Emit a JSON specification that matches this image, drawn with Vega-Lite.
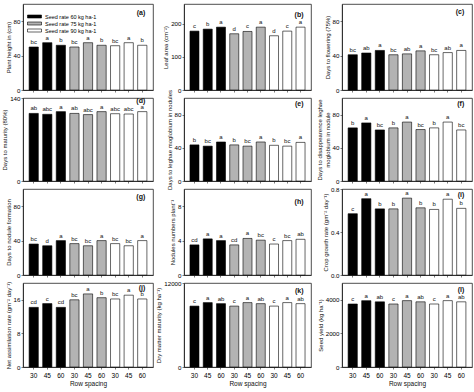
{
"$schema":"https://vega.github.io/schema/vega-lite/v6.json",
"padding":{"left":1,"top":3,"right":1,"bottom":1},
"config":{"font":"Liberation Sans","view":{"stroke":"#222","strokeWidth":0.8},
"axis":{"labelFontSize":6.2,"titleFontSize":6,"titleFontWeight":"normal","tickSize":2,"grid":false,"domainColor":"#222","tickColor":"#222","labelColor":"#000","titleColor":"#111","labelPadding":1,"titlePadding":2,"domainWidth":0.8,"tickWidth":0.6,"labelOverlap":false,"labelFlush":false,"labelBound":false},
"text":{"fontSize":6,"color":"#111"}},
"datasets":{"d":[
{"p":"a","t":"60-30","r":"60","v":50,"l":"bc"},{"p":"a","t":"60-45","r":"60","v":55,"l":"a"},{"p":"a","t":"60-60","r":"60","v":52,"l":"b"},
{"p":"a","t":"75-30","r":"75","v":50,"l":"bc"},{"p":"a","t":"75-45","r":"75","v":55,"l":"a"},{"p":"a","t":"75-60","r":"75","v":52,"l":"b"},
{"p":"a","t":"90-30","r":"90","v":51.5,"l":"bc"},{"p":"a","t":"90-45","r":"90","v":55,"l":"a"},{"p":"a","t":"90-60","r":"90","v":52,"l":"b"},
{"p":"b","t":"60-30","r":"60","v":178,"l":"c"},{"p":"b","t":"60-45","r":"60","v":184,"l":"b"},{"p":"b","t":"60-60","r":"60","v":190,"l":"a"},
{"p":"b","t":"75-30","r":"75","v":170,"l":"d"},{"p":"b","t":"75-45","r":"75","v":177,"l":"c"},{"p":"b","t":"75-60","r":"75","v":190,"l":"a"},
{"p":"b","t":"90-30","r":"90","v":164,"l":"d"},{"p":"b","t":"90-45","r":"90","v":178,"l":"c"},{"p":"b","t":"90-60","r":"90","v":190,"l":"a"},
{"p":"c","t":"60-30","r":"60","v":41,"l":"bc"},{"p":"c","t":"60-45","r":"60","v":43,"l":"ab"},{"p":"c","t":"60-60","r":"60","v":46,"l":"a"},
{"p":"c","t":"75-30","r":"75","v":41,"l":"bc"},{"p":"c","t":"75-45","r":"75","v":42,"l":"ab"},{"p":"c","t":"75-60","r":"75","v":45.5,"l":"a"},
{"p":"c","t":"90-30","r":"90","v":41,"l":"bc"},{"p":"c","t":"90-45","r":"90","v":43.5,"l":"ab"},{"p":"c","t":"90-60","r":"90","v":46,"l":"a"},
{"p":"d","t":"60-30","r":"60","v":114,"l":"ab"},{"p":"d","t":"60-45","r":"60","v":112.5,"l":"abc"},{"p":"d","t":"60-60","r":"60","v":117,"l":"a"},
{"p":"d","t":"75-30","r":"75","v":114,"l":"ab"},{"p":"d","t":"75-45","r":"75","v":112,"l":"abc"},{"p":"d","t":"75-60","r":"75","v":117,"l":"a"},
{"p":"d","t":"90-30","r":"90","v":113.5,"l":"abc"},{"p":"d","t":"90-45","r":"90","v":113,"l":"abc"},{"p":"d","t":"90-60","r":"90","v":117,"l":"a"},
{"p":"e","t":"60-30","r":"60","v":43.5,"l":"b"},{"p":"e","t":"60-45","r":"60","v":42,"l":"bc"},{"p":"e","t":"60-60","r":"60","v":47,"l":"a"},
{"p":"e","t":"75-30","r":"75","v":43.5,"l":"b"},{"p":"e","t":"75-45","r":"75","v":42,"l":"bc"},{"p":"e","t":"75-60","r":"75","v":47,"l":"a"},
{"p":"e","t":"90-30","r":"90","v":43,"l":"b"},{"p":"e","t":"90-45","r":"90","v":42,"l":"bc"},{"p":"e","t":"90-60","r":"90","v":46.5,"l":"a"},
{"p":"f","t":"60-30","r":"60","v":64,"l":"b"},{"p":"f","t":"60-45","r":"60","v":70,"l":"a"},{"p":"f","t":"60-60","r":"60","v":61.5,"l":"bc"},
{"p":"f","t":"75-30","r":"75","v":64,"l":"b"},{"p":"f","t":"75-45","r":"75","v":71,"l":"a"},{"p":"f","t":"75-60","r":"75","v":62,"l":"bc"},
{"p":"f","t":"90-30","r":"90","v":64,"l":"b"},{"p":"f","t":"90-45","r":"90","v":71,"l":"a"},{"p":"f","t":"90-60","r":"90","v":61.5,"l":"bc"},
{"p":"g","t":"60-30","r":"60","v":36,"l":"bc"},{"p":"g","t":"60-45","r":"60","v":34,"l":"d"},{"p":"g","t":"60-60","r":"60","v":40,"l":"a"},
{"p":"g","t":"75-30","r":"75","v":36.5,"l":"bc"},{"p":"g","t":"75-45","r":"75","v":34,"l":"bc"},{"p":"g","t":"75-60","r":"75","v":40,"l":"a"},
{"p":"g","t":"90-30","r":"90","v":36.5,"l":"bc"},{"p":"g","t":"90-45","r":"90","v":34,"l":"bc"},{"p":"g","t":"90-60","r":"90","v":40,"l":"a"},
{"p":"h","t":"60-30","r":"60","v":3.5,"l":"cd"},{"p":"h","t":"60-45","r":"60","v":4.2,"l":"a"},{"p":"h","t":"60-60","r":"60","v":4.0,"l":"a"},
{"p":"h","t":"75-30","r":"75","v":3.5,"l":"cd"},{"p":"h","t":"75-45","r":"75","v":4.25,"l":"a"},{"p":"h","t":"75-60","r":"75","v":4.05,"l":"bc"},
{"p":"h","t":"90-30","r":"90","v":3.6,"l":"c"},{"p":"h","t":"90-45","r":"90","v":4.0,"l":"bc"},{"p":"h","t":"90-60","r":"90","v":4.15,"l":"ab"},
{"p":"i","t":"60-30","r":"60","v":0.57,"l":"c"},{"p":"i","t":"60-45","r":"60","v":0.71,"l":"a"},{"p":"i","t":"60-60","r":"60","v":0.615,"l":"b"},
{"p":"i","t":"75-30","r":"75","v":0.615,"l":"b"},{"p":"i","t":"75-45","r":"75","v":0.715,"l":"a"},{"p":"i","t":"75-60","r":"75","v":0.625,"l":"b"},
{"p":"i","t":"90-30","r":"90","v":0.61,"l":"b"},{"p":"i","t":"90-45","r":"90","v":0.705,"l":"a"},{"p":"i","t":"90-60","r":"90","v":0.62,"l":"b"},
{"p":"j","t":"60-30","r":"60","v":14.2,"l":"cd"},{"p":"j","t":"60-45","r":"60","v":15.1,"l":"c"},{"p":"j","t":"60-60","r":"60","v":14.2,"l":"cd"},
{"p":"j","t":"75-30","r":"75","v":16,"l":"bc"},{"p":"j","t":"75-45","r":"75","v":17.4,"l":"a"},{"p":"j","t":"75-60","r":"75","v":16.5,"l":"b"},
{"p":"j","t":"90-30","r":"90","v":16.2,"l":"bc"},{"p":"j","t":"90-45","r":"90","v":17.1,"l":"a"},{"p":"j","t":"90-60","r":"90","v":16.2,"l":"b"},
{"p":"k","t":"60-30","r":"60","v":8700,"l":"c"},{"p":"k","t":"60-45","r":"60","v":9200,"l":"a"},{"p":"k","t":"60-60","r":"60","v":9050,"l":"ab"},
{"p":"k","t":"75-30","r":"75","v":8700,"l":"c"},{"p":"k","t":"75-45","r":"75","v":9200,"l":"a"},{"p":"k","t":"75-60","r":"75","v":9050,"l":"ab"},
{"p":"k","t":"90-30","r":"90","v":8700,"l":"c"},{"p":"k","t":"90-45","r":"90","v":9200,"l":"a"},{"p":"k","t":"90-60","r":"90","v":9050,"l":"ab"},
{"p":"l","t":"60-30","r":"60","v":3750,"l":"c"},{"p":"l","t":"60-45","r":"60","v":3950,"l":"a"},{"p":"l","t":"60-60","r":"60","v":3880,"l":"ab"},
{"p":"l","t":"75-30","r":"75","v":3750,"l":"c"},{"p":"l","t":"75-45","r":"75","v":3950,"l":"a"},{"p":"l","t":"75-60","r":"75","v":3880,"l":"ab"},
{"p":"l","t":"90-30","r":"90","v":3750,"l":"c"},{"p":"l","t":"90-45","r":"90","v":3950,"l":"a"},{"p":"l","t":"90-60","r":"90","v":3880,"l":"ab"}
]},
"columns":3,
"bounds":"flush",
"spacing":{"row":8,"column":31},
"align":"each",
"resolve":{"scale":{"fill":"independent"},"legend":{"fill":"independent"}},
"concat":[
{"width":130,"height":86,"encoding":{"x":{"field":"t","type":"ordinal","sort":null,"scale":{"paddingInner":0.32,"paddingOuter":0.45},"axis":{"labels":false,"title":null}}},
"layer":[
{"data":{"name":"d"},"transform":[{"filter":"datum.p=='a'"}],"mark":{"type":"bar","stroke":"black","strokeWidth":0.6},"encoding":{"y":{"field":"v","type":"quantitative","scale":{"domain":[0,100]},"axis":{"title":"Plant height in (cm)","values":[0,20,40,60,80,100],"labelOverlap":false}},"fill":{"field":"r","type":"nominal","scale":{"domain":["60","75","90"],"range":["#000000","#b3b3b3","#ffffff"]},"legend":{"title":null,"orient":"none","legendX":8.5,"legendY":9.5,"labelExpr":"'Seed rate ' + datum.label + ' kg ha-1'","symbolType":"M-2.8,-0.6H2.8V0.6H-2.8Z","symbolSize":25,"symbolStrokeColor":"black","symbolStrokeWidth":0.6,"symbolOpacity":1,"labelFontSize":5.5,"rowPadding":0,"labelOffset":7.5}}}},
{"data":{"name":"d"},"transform":[{"filter":"datum.p=='a'"}],"mark":{"type":"text","baseline":"bottom","dy":-2},"encoding":{"y":{"field":"v","type":"quantitative"},"text":{"field":"l"}}},
{"data":{"values":[{"n":"(a)"}]},"mark":{"type":"text","fontWeight":"bold","fontSize":7,"align":"right","dx":3},"encoding":{"x":{"datum":"90-60"},"y":{"datum":90},"text":{"field":"n"}}}
]},
{"width":127,"height":86,"encoding":{"x":{"field":"t","type":"ordinal","sort":null,"scale":{"paddingInner":0.32,"paddingOuter":0.45},"axis":{"labels":false,"title":null}}},
"layer":[
{"data":{"name":"d"},"transform":[{"filter":"datum.p=='b'"}],"mark":{"type":"bar","stroke":"black","strokeWidth":0.6},"encoding":{"y":{"field":"v","type":"quantitative","scale":{"domain":[0,250]},"axis":{"title":"Leaf area (cm⁻²)","values":[0,50,100,150,200,250],"labelOverlap":false}},"fill":{"field":"r","type":"nominal","scale":{"domain":["60","75","90"],"range":["#000000","#b3b3b3","#ffffff"]},"legend":null}}},
{"data":{"name":"d"},"transform":[{"filter":"datum.p=='b'"}],"mark":{"type":"text","baseline":"bottom","dy":-2},"encoding":{"y":{"field":"v","type":"quantitative"},"text":{"field":"l"}}},
{"data":{"values":[{"n":"(b)"}]},"mark":{"type":"text","fontWeight":"bold","fontSize":7,"align":"right","dx":3},"encoding":{"x":{"datum":"90-60"},"y":{"datum":228},"text":{"field":"n"}}}
]},
{"width":130,"height":86,"encoding":{"x":{"field":"t","type":"ordinal","sort":null,"scale":{"paddingInner":0.32,"paddingOuter":0.45},"axis":{"labels":false,"title":null}}},
"layer":[
{"data":{"name":"d"},"transform":[{"filter":"datum.p=='c'"}],"mark":{"type":"bar","stroke":"black","strokeWidth":0.6},"encoding":{"y":{"field":"v","type":"quantitative","scale":{"domain":[0,100]},"axis":{"title":"Days to flowering (75%)","values":[0,20,40,60,80,100],"labelOverlap":false}},"fill":{"field":"r","type":"nominal","scale":{"domain":["60","75","90"],"range":["#000000","#b3b3b3","#ffffff"]},"legend":null}}},
{"data":{"name":"d"},"transform":[{"filter":"datum.p=='c'"}],"mark":{"type":"text","baseline":"bottom","dy":-2},"encoding":{"y":{"field":"v","type":"quantitative"},"text":{"field":"l"}}},
{"data":{"values":[{"n":"(c)"}]},"mark":{"type":"text","fontWeight":"bold","fontSize":7,"align":"right","dx":3},"encoding":{"x":{"datum":"90-60"},"y":{"datum":91},"text":{"field":"n"}}}
]},
{"width":130,"height":83,"encoding":{"x":{"field":"t","type":"ordinal","sort":null,"scale":{"paddingInner":0.32,"paddingOuter":0.45},"axis":{"labels":false,"title":null}}},
"layer":[
{"data":{"name":"d"},"transform":[{"filter":"datum.p=='d'"}],"mark":{"type":"bar","stroke":"black","strokeWidth":0.6},"encoding":{"y":{"field":"v","type":"quantitative","scale":{"domain":[0,140]},"axis":{"title":"Days to maturity (80%)","values":[0,20,40,60,80,100,120,140],"labelOverlap":false}},"fill":{"field":"r","type":"nominal","scale":{"domain":["60","75","90"],"range":["#000000","#b3b3b3","#ffffff"]},"legend":null}}},
{"data":{"name":"d"},"transform":[{"filter":"datum.p=='d'"}],"mark":{"type":"text","baseline":"bottom","dy":-2},"encoding":{"y":{"field":"v","type":"quantitative"},"text":{"field":"l"}}},
{"data":{"values":[{"n":"(d)"}]},"mark":{"type":"text","fontWeight":"bold","fontSize":7,"align":"right","dx":3},"encoding":{"x":{"datum":"90-60"},"y":{"datum":135.5},"text":{"field":"n"}}}
]},
{"width":127,"height":83,"encoding":{"x":{"field":"t","type":"ordinal","sort":null,"scale":{"paddingInner":0.32,"paddingOuter":0.45},"axis":{"labels":false,"title":null}}},
"layer":[
{"data":{"name":"d"},"transform":[{"filter":"datum.p=='e'"}],"mark":{"type":"bar","stroke":"black","strokeWidth":0.6},"encoding":{"y":{"field":"v","type":"quantitative","scale":{"domain":[0,100]},"axis":{"title":"Days to leghae moglobium in nodules","values":[0,20,40,60,80,100],"labelOverlap":false}},"fill":{"field":"r","type":"nominal","scale":{"domain":["60","75","90"],"range":["#000000","#b3b3b3","#ffffff"]},"legend":null}}},
{"data":{"name":"d"},"transform":[{"filter":"datum.p=='e'"}],"mark":{"type":"text","baseline":"bottom","dy":-2},"encoding":{"y":{"field":"v","type":"quantitative"},"text":{"field":"l"}}},
{"data":{"values":[{"n":"(e)"}]},"mark":{"type":"text","fontWeight":"bold","fontSize":7,"align":"right","dx":3},"encoding":{"x":{"datum":"90-60"},"y":{"datum":93},"text":{"field":"n"}}}
]},
{"width":130,"height":83,"encoding":{"x":{"field":"t","type":"ordinal","sort":null,"scale":{"paddingInner":0.32,"paddingOuter":0.45},"axis":{"labels":false,"title":null}}},
"layer":[
{"data":{"name":"d"},"transform":[{"filter":"datum.p=='f'"}],"mark":{"type":"bar","stroke":"black","strokeWidth":0.6},"encoding":{"y":{"field":"v","type":"quantitative","scale":{"domain":[0,100]},"axis":{"title":["Days to disappearence leghae","moglobium in nodule"],"values":[0,20,40,60,80,100],"labelOverlap":false}},"fill":{"field":"r","type":"nominal","scale":{"domain":["60","75","90"],"range":["#000000","#b3b3b3","#ffffff"]},"legend":null}}},
{"data":{"name":"d"},"transform":[{"filter":"datum.p=='f'"}],"mark":{"type":"text","baseline":"bottom","dy":-2},"encoding":{"y":{"field":"v","type":"quantitative"},"text":{"field":"l"}}},
{"data":{"values":[{"n":"(f)"}]},"mark":{"type":"text","fontWeight":"bold","fontSize":7,"align":"right","dx":3},"encoding":{"x":{"datum":"90-60"},"y":{"datum":93},"text":{"field":"n"}}}
]},
{"width":130,"height":86,"encoding":{"x":{"field":"t","type":"ordinal","sort":null,"scale":{"paddingInner":0.32,"paddingOuter":0.45},"axis":{"labels":false,"title":null}}},
"layer":[
{"data":{"name":"d"},"transform":[{"filter":"datum.p=='g'"}],"mark":{"type":"bar","stroke":"black","strokeWidth":0.6},"encoding":{"y":{"field":"v","type":"quantitative","scale":{"domain":[0,100]},"axis":{"title":"Days to nodule formation","values":[0,20,40,60,80,100],"labelOverlap":false}},"fill":{"field":"r","type":"nominal","scale":{"domain":["60","75","90"],"range":["#000000","#b3b3b3","#ffffff"]},"legend":null}}},
{"data":{"name":"d"},"transform":[{"filter":"datum.p=='g'"}],"mark":{"type":"text","baseline":"bottom","dy":-2},"encoding":{"y":{"field":"v","type":"quantitative"},"text":{"field":"l"}}},
{"data":{"values":[{"n":"(g)"}]},"mark":{"type":"text","fontWeight":"bold","fontSize":7,"align":"right","dx":3},"encoding":{"x":{"datum":"90-60"},"y":{"datum":91},"text":{"field":"n"}}}
]},
{"width":127,"height":86,"encoding":{"x":{"field":"t","type":"ordinal","sort":null,"scale":{"paddingInner":0.32,"paddingOuter":0.45},"axis":{"labels":false,"title":null}}},
"layer":[
{"data":{"name":"d"},"transform":[{"filter":"datum.p=='h'"}],"mark":{"type":"bar","stroke":"black","strokeWidth":0.6},"encoding":{"y":{"field":"v","type":"quantitative","scale":{"domain":[0,10]},"axis":{"title":"Nodules numbers plant⁻¹","values":[0,2,4,6,8,10],"labelOverlap":false}},"fill":{"field":"r","type":"nominal","scale":{"domain":["60","75","90"],"range":["#000000","#b3b3b3","#ffffff"]},"legend":null}}},
{"data":{"name":"d"},"transform":[{"filter":"datum.p=='h'"}],"mark":{"type":"text","baseline":"bottom","dy":-2},"encoding":{"y":{"field":"v","type":"quantitative"},"text":{"field":"l"}}},
{"data":{"values":[{"n":"(h)"}]},"mark":{"type":"text","fontWeight":"bold","fontSize":7,"align":"right","dx":3},"encoding":{"x":{"datum":"90-60"},"y":{"datum":8.5},"text":{"field":"n"}}}
]},
{"width":130,"height":86,"encoding":{"x":{"field":"t","type":"ordinal","sort":null,"scale":{"paddingInner":0.32,"paddingOuter":0.45},"axis":{"labels":false,"title":null}}},
"layer":[
{"data":{"name":"d"},"transform":[{"filter":"datum.p=='i'"}],"mark":{"type":"bar","stroke":"black","strokeWidth":0.6},"encoding":{"y":{"field":"v","type":"quantitative","scale":{"domain":[0,0.8]},"axis":{"title":"Crop growth rate (gm⁻² day⁻¹)","values":[0,0.2,0.4,0.6,0.8],"format":".1f","labelOverlap":false}},"fill":{"field":"r","type":"nominal","scale":{"domain":["60","75","90"],"range":["#000000","#b3b3b3","#ffffff"]},"legend":null}}},
{"data":{"name":"d"},"transform":[{"filter":"datum.p=='i'"}],"mark":{"type":"text","baseline":"bottom","dy":-2},"encoding":{"y":{"field":"v","type":"quantitative"},"text":{"field":"l"}}},
{"data":{"values":[{"n":"(i)"}]},"mark":{"type":"text","fontWeight":"bold","fontSize":7,"align":"right","dx":3},"encoding":{"x":{"datum":"90-60"},"y":{"datum":0.745},"text":{"field":"n"}}}
]},
{"width":130,"height":84,"encoding":{"x":{"field":"t","type":"ordinal","sort":null,"scale":{"paddingInner":0.32,"paddingOuter":0.45},"axis":{"labelExpr":"split(datum.value,'-')[1]","labelAngle":0,"labelFontSize":6.5,"title":"Row spacing","titleFontSize":6.5,"labelPadding":3}}},
"layer":[
{"data":{"name":"d"},"transform":[{"filter":"datum.p=='j'"}],"mark":{"type":"bar","stroke":"black","strokeWidth":0.6},"encoding":{"y":{"field":"v","type":"quantitative","scale":{"domain":[0,19.5]},"axis":{"title":"Net assimilation rate (gm⁻² day⁻¹)","values":[0,2,4,6,8,10,12,14,16,18],"labelOverlap":false}},"fill":{"field":"r","type":"nominal","scale":{"domain":["60","75","90"],"range":["#000000","#b3b3b3","#ffffff"]},"legend":null}}},
{"data":{"name":"d"},"transform":[{"filter":"datum.p=='j'"}],"mark":{"type":"text","baseline":"bottom","dy":-2},"encoding":{"y":{"field":"v","type":"quantitative"},"text":{"field":"l"}}},
{"data":{"values":[{"n":"(j)"}]},"mark":{"type":"text","fontWeight":"bold","fontSize":7,"align":"right","dx":3},"encoding":{"x":{"datum":"90-60"},"y":{"datum":18.7},"text":{"field":"n"}}}
]},
{"width":127,"height":84,"encoding":{"x":{"field":"t","type":"ordinal","sort":null,"scale":{"paddingInner":0.32,"paddingOuter":0.45},"axis":{"labelExpr":"split(datum.value,'-')[1]","labelAngle":0,"labelFontSize":6.5,"title":"Row spacing","titleFontSize":6.5,"labelPadding":3}}},
"layer":[
{"data":{"name":"d"},"transform":[{"filter":"datum.p=='k'"}],"mark":{"type":"bar","stroke":"black","strokeWidth":0.6},"encoding":{"y":{"field":"v","type":"quantitative","scale":{"domain":[0,12000]},"axis":{"title":"Dry matter maturity (kg ha⁻¹)","values":[0,2000,4000,6000,8000,10000,12000],"format":"d","labelOverlap":false}},"fill":{"field":"r","type":"nominal","scale":{"domain":["60","75","90"],"range":["#000000","#b3b3b3","#ffffff"]},"legend":null}}},
{"data":{"name":"d"},"transform":[{"filter":"datum.p=='k'"}],"mark":{"type":"text","baseline":"bottom","dy":-2},"encoding":{"y":{"field":"v","type":"quantitative"},"text":{"field":"l"}}},
{"data":{"values":[{"n":"(k)"}]},"mark":{"type":"text","fontWeight":"bold","fontSize":7,"align":"right","dx":3},"encoding":{"x":{"datum":"90-60"},"y":{"datum":10900},"text":{"field":"n"}}}
]},
{"width":130,"height":84,"encoding":{"x":{"field":"t","type":"ordinal","sort":null,"scale":{"paddingInner":0.32,"paddingOuter":0.45},"axis":{"labelExpr":"split(datum.value,'-')[1]","labelAngle":0,"labelFontSize":6.5,"title":"Row spacing","titleFontSize":6.5,"labelPadding":3}}},
"layer":[
{"data":{"name":"d"},"transform":[{"filter":"datum.p=='l'"}],"mark":{"type":"bar","stroke":"black","strokeWidth":0.6},"encoding":{"y":{"field":"v","type":"quantitative","scale":{"domain":[0,5000]},"axis":{"title":"Seed  yield (kg ha⁻¹)","values":[0,1000,2000,3000,4000,5000],"format":"d","labelOverlap":false}},"fill":{"field":"r","type":"nominal","scale":{"domain":["60","75","90"],"range":["#000000","#b3b3b3","#ffffff"]},"legend":null}}},
{"data":{"name":"d"},"transform":[{"filter":"datum.p=='l'"}],"mark":{"type":"text","baseline":"bottom","dy":-2},"encoding":{"y":{"field":"v","type":"quantitative"},"text":{"field":"l"}}},
{"data":{"values":[{"n":"(l)"}]},"mark":{"type":"text","fontWeight":"bold","fontSize":7,"align":"right","dx":3},"encoding":{"x":{"datum":"90-60"},"y":{"datum":4580},"text":{"field":"n"}}}
]}
]
}
